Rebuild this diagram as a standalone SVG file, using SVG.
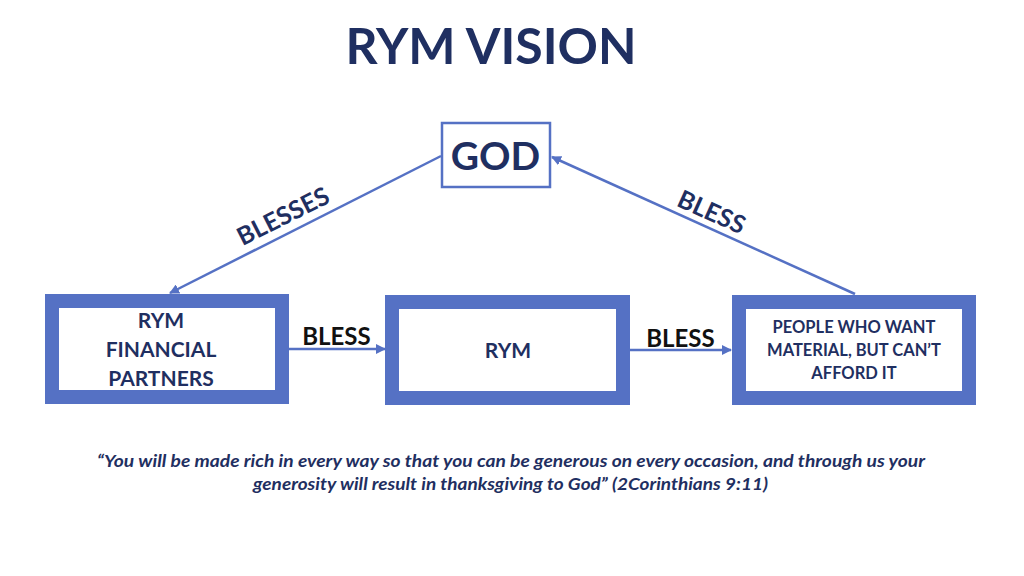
<svg xmlns="http://www.w3.org/2000/svg" width="1024" height="576" viewBox="0 0 1024 576">
<defs>
<marker id="arr" viewBox="0 0 10 10" refX="9" refY="5" markerWidth="4" markerHeight="4" markerUnits="strokeWidth" orient="auto">
<path d="M0,0 L10,5 L0,10 z" fill="#5571C4"/>
</marker>
<style>
.t{font-family:Lato,"Open Sans","Liberation Sans",sans-serif;font-weight:bold;fill:#1F2F61;text-anchor:middle}
.box{fill:#fff;stroke:#5571C4;stroke-width:14}
.god{fill:#fff;stroke:#5571C4;stroke-width:2.5}
.ln{stroke:#5571C4;stroke-width:2.5;fill:none;marker-end:url(#arr)}
.lbl{font-family:Lato,"Open Sans","Liberation Sans",sans-serif;font-weight:bold;text-anchor:middle}
.q{font-family:Lato,"Open Sans","Liberation Sans",sans-serif;font-weight:bold;font-style:italic;fill:#1F2F61;font-size:17.5px}
</style>
</defs>
<rect width="1024" height="576" fill="#fff"/>
<text class="t" x="491" y="64" font-size="50">RYM VISION</text>

<g id="connectors">
<line class="ln" x1="441" y1="156" x2="170" y2="293"/>
<line class="ln" x1="855" y1="294" x2="552" y2="157"/>
<line class="ln" x1="289" y1="349" x2="385" y2="349"/>
<line class="ln" x1="630" y1="350" x2="731" y2="350"/>
<text class="lbl" fill="#1F2F61" font-size="25" transform="translate(287,224) rotate(-26.6)">BLESSES</text>
<text class="lbl" fill="#1F2F61" font-size="25" transform="translate(708,220) rotate(24.2)">BLESS</text>
<text class="lbl" fill="#111" font-size="24" x="336.5" y="345">BLESS</text>
<text class="lbl" fill="#111" font-size="24" x="680.5" y="347">BLESS</text>
</g>

<g id="god">
<rect class="god" x="442" y="123" width="108" height="64"/>
<text class="t" x="495.5" y="170" font-size="39">GOD</text>
</g>

<g id="partners">
<rect class="box" x="52" y="301" width="230" height="96"/>
<text class="t" x="161" y="327.7" font-size="21">RYM</text>
<text class="t" x="161" y="356.7" font-size="21">FINANCIAL</text>
<text class="t" x="161" y="385.7" font-size="21">PARTNERS</text>
</g>

<g id="rym">
<rect class="box" x="392" y="302" width="231" height="96"/>
<text class="t" x="508" y="358" font-size="21">RYM</text>
</g>

<g id="people">
<rect class="box" x="739" y="302" width="230" height="96"/>
<text class="t" x="854" y="333" font-size="16.5">PEOPLE WHO WANT</text>
<text class="t" x="854" y="356" font-size="16.5">MATERIAL, BUT CAN’T</text>
<text class="t" x="854" y="379" font-size="16.5">AFFORD IT</text>
</g>

<text class="q" x="97" y="467" textLength="828" lengthAdjust="spacingAndGlyphs">“You will be made rich in every way so that you can be generous on every occasion, and through us your</text>
<text class="q" x="253" y="490" textLength="515" lengthAdjust="spacingAndGlyphs">generosity will result in thanksgiving to God” (2Corinthians 9:11)</text>
</svg>
